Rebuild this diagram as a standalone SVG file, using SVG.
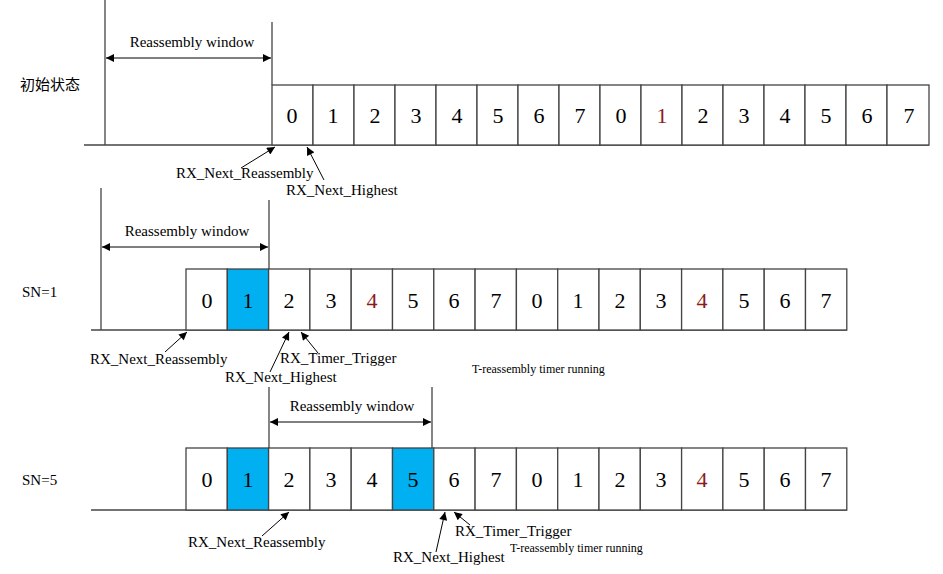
<svg xmlns="http://www.w3.org/2000/svg" width="943" height="574" viewBox="0 0 943 574">
<defs>
<marker id="a" viewBox="0 0 10 10" refX="10" refY="5" markerWidth="10" markerHeight="8" orient="auto-start-reverse" markerUnits="userSpaceOnUse"><path d="M0,0L10,5L0,10z" fill="#000"/></marker>
</defs>
<style>
.c{fill:#fff;stroke:#444;stroke-width:1.3}
.b{fill:#00B0F0;stroke:#444;stroke-width:1.3}
.l{stroke:#444;stroke-width:1.3;fill:none}
.ar{stroke:#000;stroke-width:1;fill:none;marker-end:url(#a)}
.w{stroke:#000;stroke-width:1;fill:none;marker-start:url(#a);marker-end:url(#a)}
text{font-family:"Liberation Serif",serif;fill:#000}
.d{font-size:22px;text-anchor:middle}
.r{fill:#8B1A1A}
.t{font-size:15px}
.s{font-size:12px}
</style>
<g id="row1">
<line class="l" x1="84" y1="145" x2="929" y2="145"/>
<line class="l" x1="105" y1="0" x2="105" y2="145"/>
<line class="l" x1="272" y1="22" x2="272" y2="85"/>
<line class="w" x1="106" y1="58" x2="271" y2="58"/>
<text class="t" x="192" y="47" text-anchor="middle">Reassembly window</text>
<text x="20" y="90" style="font-size:15px;font-family:'Noto Sans CJK SC',sans-serif">初始状态</text>
<g id="cells1"></g>
</g>
<g id="row2">
<line class="l" x1="91" y1="330" x2="847" y2="330"/>
<line class="l" x1="101" y1="188" x2="101" y2="330"/>
<line class="l" x1="269" y1="200" x2="269" y2="269"/>
<line class="w" x1="102" y1="247" x2="268" y2="247"/>
<text class="t" x="187" y="236" text-anchor="middle">Reassembly window</text>
<text class="t" x="22" y="297">SN=1</text>
</g>
<g id="row3">
<line class="l" x1="91" y1="510" x2="847" y2="510"/>
<line class="l" x1="269" y1="387" x2="269" y2="448"/>
<line class="l" x1="432" y1="387" x2="432" y2="448"/>
<line class="w" x1="270" y1="422" x2="431" y2="422"/>
<text class="t" x="352" y="411" text-anchor="middle">Reassembly window</text>
<text class="t" x="22" y="485">SN=5</text>
</g>
<g id="cells">
<!-- row1 x0=272 w=41 -->
<rect class="c" x="272" y="85" width="41" height="60"/><rect class="c" x="313" y="85" width="41" height="60"/><rect class="c" x="354" y="85" width="41" height="60"/><rect class="c" x="395" y="85" width="41" height="60"/><rect class="c" x="436" y="85" width="41" height="60"/><rect class="c" x="477" y="85" width="41" height="60"/><rect class="c" x="518" y="85" width="41" height="60"/><rect class="c" x="559" y="85" width="41" height="60"/><rect class="c" x="600" y="85" width="41" height="60"/><rect class="c" x="641" y="85" width="41" height="60"/><rect class="c" x="682" y="85" width="41" height="60"/><rect class="c" x="723" y="85" width="41" height="60"/><rect class="c" x="764" y="85" width="41" height="60"/><rect class="c" x="805" y="85" width="41" height="60"/><rect class="c" x="846" y="85" width="41" height="60"/><rect class="c" x="887" y="85" width="42" height="60"/>
<text class="d" y="123"><tspan x="292">0</tspan><tspan x="333">1</tspan><tspan x="375">2</tspan><tspan x="416">3</tspan><tspan x="457">4</tspan><tspan x="498">5</tspan><tspan x="539">6</tspan><tspan x="580">7</tspan><tspan x="621">0</tspan><tspan x="662" class="r">1</tspan><tspan x="703">2</tspan><tspan x="744">3</tspan><tspan x="785">4</tspan><tspan x="826">5</tspan><tspan x="867">6</tspan><tspan x="909">7</tspan></text>
<!-- row2 x0=186 w=41.3 -->
<rect class="c" x="186" y="269" width="41.3" height="61"/><rect class="b" x="227.3" y="269" width="41.3" height="61"/><rect class="c" x="268.6" y="269" width="41.3" height="61"/><rect class="c" x="309.9" y="269" width="41.3" height="61"/><rect class="c" x="351.2" y="269" width="41.3" height="61"/><rect class="c" x="392.5" y="269" width="41.3" height="61"/><rect class="c" x="433.8" y="269" width="41.3" height="61"/><rect class="c" x="475.1" y="269" width="41.3" height="61"/><rect class="c" x="516.4" y="269" width="41.3" height="61"/><rect class="c" x="557.7" y="269" width="41.3" height="61"/><rect class="c" x="599" y="269" width="41.3" height="61"/><rect class="c" x="640.3" y="269" width="41.3" height="61"/><rect class="c" x="681.6" y="269" width="41.3" height="61"/><rect class="c" x="722.9" y="269" width="41.3" height="61"/><rect class="c" x="764.2" y="269" width="41.3" height="61"/><rect class="c" x="805.5" y="269" width="41.3" height="61"/>
<text class="d" y="308"><tspan x="207">0</tspan><tspan x="248">1</tspan><tspan x="289">2</tspan><tspan x="331">3</tspan><tspan x="372" class="r">4</tspan><tspan x="413">5</tspan><tspan x="454">6</tspan><tspan x="496">7</tspan><tspan x="537">0</tspan><tspan x="578">1</tspan><tspan x="620">2</tspan><tspan x="661">3</tspan><tspan x="702" class="r">4</tspan><tspan x="744">5</tspan><tspan x="785">6</tspan><tspan x="826">7</tspan></text>
<!-- row3 -->
<rect class="c" x="186" y="448" width="41.3" height="62"/><rect class="b" x="227.3" y="448" width="41.3" height="62"/><rect class="c" x="268.6" y="448" width="41.3" height="62"/><rect class="c" x="309.9" y="448" width="41.3" height="62"/><rect class="c" x="351.2" y="448" width="41.3" height="62"/><rect class="b" x="392.5" y="448" width="41.3" height="62"/><rect class="c" x="433.8" y="448" width="41.3" height="62"/><rect class="c" x="475.1" y="448" width="41.3" height="62"/><rect class="c" x="516.4" y="448" width="41.3" height="62"/><rect class="c" x="557.7" y="448" width="41.3" height="62"/><rect class="c" x="599" y="448" width="41.3" height="62"/><rect class="c" x="640.3" y="448" width="41.3" height="62"/><rect class="c" x="681.6" y="448" width="41.3" height="62"/><rect class="c" x="722.9" y="448" width="41.3" height="62"/><rect class="c" x="764.2" y="448" width="41.3" height="62"/><rect class="c" x="805.5" y="448" width="41.3" height="62"/>
<text class="d" y="487"><tspan x="207">0</tspan><tspan x="248">1</tspan><tspan x="289">2</tspan><tspan x="331">3</tspan><tspan x="372">4</tspan><tspan x="413">5</tspan><tspan x="454">6</tspan><tspan x="496">7</tspan><tspan x="537">0</tspan><tspan x="578">1</tspan><tspan x="620">2</tspan><tspan x="661">3</tspan><tspan x="702" class="r">4</tspan><tspan x="744">5</tspan><tspan x="785">6</tspan><tspan x="826">7</tspan></text>
</g>
<g id="connectors">
<line class="ar" x1="241" y1="168" x2="275" y2="147"/>
<line class="ar" x1="324" y1="180" x2="307" y2="147"/>
<line class="ar" x1="165" y1="352" x2="187" y2="332"/>
<line class="ar" x1="318" y1="353" x2="301" y2="332"/>
<line class="ar" x1="270" y1="372" x2="289" y2="332"/>
<line class="ar" x1="262" y1="536" x2="289" y2="512"/>
<line class="ar" x1="470" y1="525" x2="454" y2="512"/>
<line class="ar" x1="436" y1="552" x2="445" y2="512"/>
</g>
<g id="labels" class="t">
<text class="t" x="176" y="178">RX_Next_Reassembly</text>
<text class="t" x="286" y="195">RX_Next_Highest</text>
<text class="t" x="90" y="364">RX_Next_Reassembly</text>
<text class="t" x="280" y="363">RX_Timer_Trigger</text>
<text class="t" x="225" y="382">RX_Next_Highest</text>
<text class="s" x="472" y="373">T-reassembly timer running</text>
<text class="t" x="188" y="547">RX_Next_Reassembly</text>
<text class="t" x="455" y="536">RX_Timer_Trigger</text>
<text class="t" x="393" y="562">RX_Next_Highest</text>
<text class="s" x="510" y="552">T-reassembly timer running</text>
</g>
</svg>
